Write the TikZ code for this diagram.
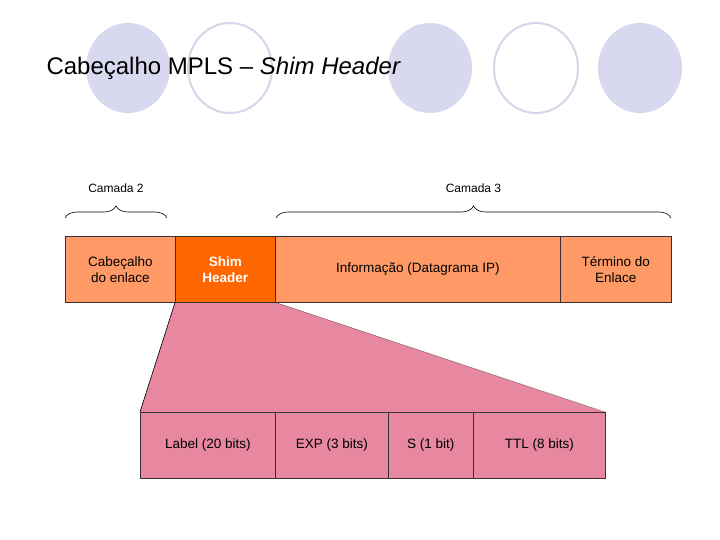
\documentclass[tikz,border=0pt]{standalone}
\usepackage{fontspec}
\setmainfont{Liberation Sans}
\usetikzlibrary{decorations.pathreplacing}
\definecolor{lav}{RGB}{216,216,238}
\definecolor{lavline}{RGB}{214,214,232}
\definecolor{peach}{RGB}{255,153,102}
\definecolor{orng}{RGB}{255,102,0}
\definecolor{pinkf}{RGB}{232,136,160}
\tikzset{
  fieldbox/.style={draw=black!80, line width=0.6pt, fill=peach, minimum height=66pt, anchor=north west, inner sep=0pt, align=center, font=\fontsize{13.5}{16}\selectfont},
  bitbox/.style={draw=black!80, line width=0.6pt, fill=pinkf, minimum height=66pt, anchor=north west, inner sep=0pt, font=\fontsize{13.5}{16}\selectfont},
  brc/.style={decorate, decoration={brace, amplitude=12pt, raise=0pt}, line width=0.6pt},
  lbl/.style={font=\fontsize{12}{14}\selectfont}
}
\begin{document}
\begin{tikzpicture}[x=1pt,y=-1pt]
\useasboundingbox (0,0) rectangle (720,540);
\fill[white] (0,0) rectangle (720,540);
% title circles
\foreach \cx in {128,430,640} \fill[lav] (\cx,68) ellipse (42 and 45);
\foreach \cx in {230,536} \draw[lavline, line width=2pt] (\cx,68) ellipse (42 and 45);
\node[font=\fontsize{24}{28}\selectfont, anchor=west] (title) at (43,68) {Cabeçalho MPLS – \textit{Shim Header}};
% pink trapezoid
\fill[pinkf] (175,302) -- (275,302) -- (605,412) -- (140,412) -- cycle;
% top row
\node[fieldbox, minimum width=110pt] (cab) at (65,236) {Cabeçalho\\do enlace};
\node[fieldbox, fill=orng, minimum width=100pt, text=white, font=\bfseries\fontsize{13.5}{16}\selectfont] (shim) at (175,236) {Shim\\Header};
\node[fieldbox, minimum width=285pt] (info) at (275,236) {Informação (Datagrama IP)};
\node[fieldbox, minimum width=111pt] (term) at (560,236) {Término do\\Enlace};
\draw[line width=0.6pt] (shim.south west) -- (140,412);
\draw[line width=0.3pt, black!60] (shim.south east) -- (605,412);
% bottom row
\node[bitbox, minimum width=135pt] (label) at (140,412) {Label (20 bits)};
\node[bitbox, minimum width=113pt] (exp) at (275,412) {EXP (3 bits)};
\node[bitbox, minimum width=85pt] (s) at (388,412) {S (1 bit)};
\node[bitbox, minimum width=132pt] (ttl) at (473,412) {TTL (8 bits)};
% braces
\coordinate (b1l) at (65,218); \coordinate (b1r) at (167,218);
\coordinate (b2l) at (276,218); \coordinate (b2r) at (671,218);
\draw[brc] (b1l) -- (b1r) node[midway, above=22pt, lbl] (c2) {Camada 2};
\draw[brc] (b2l) -- (b2r) node[midway, above=22pt, lbl] (c3) {Camada 3};
\end{tikzpicture}
\end{document}
